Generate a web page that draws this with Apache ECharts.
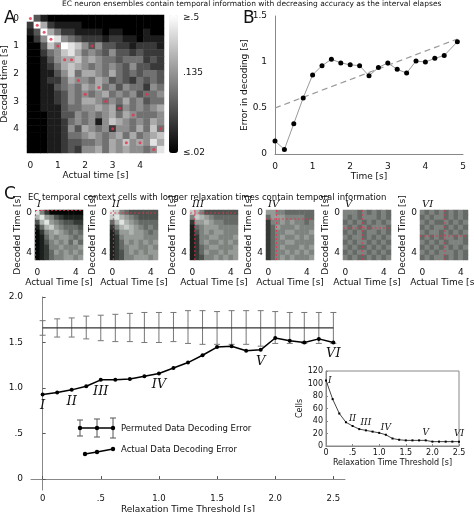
<!DOCTYPE html>
<html><head><meta charset="utf-8">
<script src="https://cdn.jsdelivr.net/npm/echarts@6/dist/echarts.min.js"></script>
<style>html,body{margin:0;background:#fff}#c{width:474px;height:512px}</style>
</head><body><div id="c"></div>
<script>
// panel A: decoding probability, rows = decoded time (0..4.75 s), cols = actual time, grey level 0..9
var heatA = [
 "93100000000000000000","29621111000000000000","13964221111011000100","02598543222122110111",
 "00375987535332212221","00245786454353323222","00135667565443444232","00124676545454353322",
 "00113574665464343443","00122465546534324343","00113454656453544254","00112354545645453445",
 "00112354665454645344","00111344556563545456","00011335454564654445","00011245451576545465",
 "00011253654525546474","00011244565456464567","00011233445465756586","00011232556465655458"];
// red dots in A [col,row]
var dotsA = [[0,0],[1,1],[2,2],[3,3],[4,4],[9,4],[5,6],[6,6],[7,9],[10,10],[8,11],[17,11],[11,12],
 [13,13],[15,14],[12,16],[19,16],[14,18],[16,18],[18,19]];
var timeB = [0,0.25,0.5,0.75,1,1.25,1.5,1.75,2,2.25,2.5,2.75,3,3.25,3.5,3.75,4,4.25,4.5,4.85];
var errB = [0.14,0.05,0.33,0.61,0.86,0.96,1.03,0.99,0.97,0.96,0.85,0.94,0.99,0.92,0.88,1.01,1.0,1.04,1.07,1.22];
var fitB = [[0,0.5],[4.85,1.25]];
// panel C small decoding maps (10x10)
var heatC = [
 ["9520000000","7965321111","3796543322","1478654443","0256765454","0146566545","0135656464","0125565556","0124656565","0124556656"],
 ["9854333333","8976543333","4797654444","2578765454","1366766545","1256666555","1246565656","1245665565","1235656566","1235566656"],
 ["8753333333","5876544444","2667655444","1456665555","1356566555","1255665556","1256556565","1245665556","1246556566","1235565656"],
 ["6655444444","4666555544","2556565545","2465556555","2455665556","2456556565","2455665555","2456555656","2455656565","2456565556"],
 ["5554545454","5454555454","4545454545","5454545554","4545455454","5455454545","4545545454","5454454545","4545545454","5454454545"],
 ["5454545454","4545545454","5454454545","4545545454","5455454545","4545455454","5454545554","4545454545","5454555454","4545545454"]];
var romans = ["I","II","III","IV","V","VI"];
var crossC = [[0.05,0.05],[0.35,0.3],[0.5,0.3],[1.1,0.9],[2.0,1.8],[2.6,2.6]];
// main panel C
var thr = [0,0.125,0.25,0.375,0.5,0.625,0.75,0.875,1,1.125,1.25,1.375,1.5,1.625,1.75,1.875,2,2.125,2.25,2.375,2.5];
var actual = [0.93,0.95,0.98,1.02,1.09,1.09,1.10,1.13,1.16,1.22,1.28,1.36,1.45,1.46,1.41,1.42,1.55,1.52,1.50,1.54,1.50];
var permMean = 1.66;
var permHi = [1.74,1.76,1.77,1.79,1.80,1.81,1.82,1.83,1.83,1.83,1.85,1.85,1.84,1.85,1.85,1.85,1.84,1.83,1.83,1.83,1.83];
var permLo = [1.58,1.56,1.56,1.54,1.52,1.51,1.51,1.50,1.50,1.51,1.49,1.48,1.48,1.48,1.48,1.46,1.49,1.49,1.49,1.49,1.49];
var cells = [105,75,52,38,32,27,25,23,21,18,12,10,9,9,9,9,7,7,7,7,7];
var mainLab = {0:"I",2:"II",4:"III",8:"IV",15:"V",20:"VI"};
var insetLab = {0:"I",4:"II",6:"III",9:"IV",15:"V",20:"VI"};

var F = "DejaVu Sans";
var chart = echarts.init(document.getElementById('c'));
var grid = [], xAxis = [], yAxis = [], series = [];
function rng(n){var a=[];for(var i=0;i<n;i++)a.push(String(i));return a;}
function cellsOf(rows){var d=[];rows.forEach(function(r,y){for(var x=0;x<r.length;x++)d.push([x,y,+r[x]]);});return d;}
var ax = {axisLine:{lineStyle:{color:'#888'}},axisTick:{show:false},axisLabel:{color:'#111',fontFamily:F,fontSize:9},splitLine:{show:false}};
function nameSt(){return {color:'#111',fontFamily:F,fontSize:9};}
function G(o){o.outerBoundsMode='none';o.containLabel=false;grid.push(o);return grid.length-1;}

// A
G({left:27,top:15,width:137,height:138});
xAxis.push(Object.assign({},ax,{type:'category',gridIndex:0,data:rng(20),axisLine:{show:false},
  axisLabel:{interval:3,color:'#111',fontSize:9,fontFamily:F,formatter:function(v){return v/4;}},
  name:'Actual time [s]',nameLocation:'middle',nameGap:17,nameTextStyle:nameSt()}));
yAxis.push(Object.assign({},ax,{type:'category',gridIndex:0,data:rng(20),inverse:true,axisLine:{show:false},
  axisLabel:{interval:3,color:'#111',fontSize:9,fontFamily:F,formatter:function(v){return v/4;}},
  name:'Decoded time [s]',nameLocation:'middle',nameGap:16,nameTextStyle:nameSt()}));
series.push({type:'heatmap',xAxisIndex:0,yAxisIndex:0,data:cellsOf(heatA)});
series.push({type:'scatter',xAxisIndex:0,yAxisIndex:0,data:dotsA,symbolSize:3,itemStyle:{color:'#e8304a'}});

// B
G({left:275,top:16,width:188,height:138});
xAxis.push(Object.assign({},ax,{type:'value',gridIndex:1,min:0,max:5,interval:1,
  name:'Time [s]',nameLocation:'middle',nameGap:15,nameTextStyle:nameSt()}));
yAxis.push(Object.assign({},ax,{type:'value',gridIndex:1,min:0,max:1.5,interval:0.5,
  axisLabel:{color:'#111',fontSize:9,fontFamily:F,formatter:function(v){return v===1?'1':String(v);}},
  name:'Error in decoding [s]',nameLocation:'middle',nameGap:20,nameTextStyle:nameSt()}));
series.push({type:'line',xAxisIndex:1,yAxisIndex:1,data:timeB.map(function(t,i){return [t,errB[i]];}),
  symbol:'circle',symbolSize:5,lineStyle:{color:'#999',width:1},itemStyle:{color:'#000'}});
series.push({type:'line',xAxisIndex:1,yAxisIndex:1,data:fitB,symbol:'none',lineStyle:{color:'#999',width:1.2,type:[6,4]}});

// C small maps
var lefts = [35,110,190,266,343,420];
lefts.forEach(function(l,k){
  var g = G({left:l,top:210,width:48,height:50});
  xAxis.push(Object.assign({},ax,{type:'category',gridIndex:g,data:rng(10),axisLine:{show:false},
    axisLabel:{interval:7,color:'#111',fontSize:9,fontFamily:F,formatter:function(v){return v/2;}},
    name:'Actual Time [s]',nameLocation:'middle',nameGap:14,nameTextStyle:nameSt()}));
  yAxis.push(Object.assign({},ax,{type:'category',gridIndex:g,data:rng(10),inverse:true,axisLine:{show:false},
    axisLabel:{interval:7,color:'#111',fontSize:9,fontFamily:F,margin:3,formatter:function(v){return v/2;}},
    name:'Decoded Time [s]',nameLocation:'middle',nameGap:11,nameTextStyle:nameSt()}));
  var xi = xAxis.length, yi = yAxis.length;
  xAxis.push({type:'value',gridIndex:g,min:0,max:5,show:false});
  yAxis.push({type:'value',gridIndex:g,min:0,max:5,inverse:true,show:false});
  series.push({type:'heatmap',xAxisIndex:xi-1,yAxisIndex:yi-1,data:cellsOf(heatC[k])});
  var c = crossC[k];
  series.push({type:'line',xAxisIndex:xi,yAxisIndex:yi,data:[[c[0],0],[c[0],5]],symbol:'none',lineStyle:{color:'#e8304a',width:1,type:[2,2],opacity:0.8}});
  series.push({type:'line',xAxisIndex:xi,yAxisIndex:yi,data:[[0,c[1]],[5,c[1]]],symbol:'none',lineStyle:{color:'#e8304a',width:1,type:[2,2],opacity:0.8}});
});

// main
var gm = G({left:31,top:297,width:314,height:193});
var cvX = [0,0.5,1,1.5,2,2.5];
xAxis.push(Object.assign({},ax,{type:'value',gridIndex:gm,min:-0.1,max:2.6,
  axisTick:{show:true,customValues:cvX,inside:true,length:3,lineStyle:{color:'#555'}},
  axisLabel:{customValues:cvX,color:'#111',fontSize:8.5,fontFamily:F,margin:4,formatter:function(v){return v===0?'0':v===0.5?'.5':v.toFixed(1);}},
  name:'Relaxation Time Threshold [s]',nameLocation:'middle',nameGap:15,nameTextStyle:nameSt()}));
var cvY = [0,0.5,1,1.5,2];
yAxis.push(Object.assign({},ax,{type:'value',gridIndex:gm,min:-0.12,max:2.0,
  axisTick:{show:true,customValues:cvY,inside:true,length:3,lineStyle:{color:'#555'}},
  axisLabel:{customValues:cvY,color:'#111',fontSize:9,fontFamily:F,formatter:function(v){return v===0?'0':v===0.5?'.5':v.toFixed(1);}},
  name:'Decoding Error [s]',nameLocation:'middle',nameGap:22,nameTextStyle:nameSt()}));
var xm = xAxis.length-1, ym = yAxis.length-1;
series.push({type:'custom',xAxisIndex:xm,yAxisIndex:ym,data:thr.map(function(t,i){return [t,permLo[i],permHi[i]];}),
  renderItem:function(p,api){var a=api.coord([api.value(0),api.value(1)]),b=api.coord([api.value(0),api.value(2)]);
    var st={stroke:'#777',lineWidth:1};
    return {type:'group',children:[
      {type:'line',shape:{x1:a[0],y1:a[1],x2:b[0],y2:b[1]},style:st},
      {type:'line',shape:{x1:a[0]-3,y1:a[1],x2:a[0]+3,y2:a[1]},style:st},
      {type:'line',shape:{x1:b[0]-3,y1:b[1],x2:b[0]+3,y2:b[1]},style:st}]};}});
series.push({type:'line',xAxisIndex:xm,yAxisIndex:ym,data:thr.map(function(t){return [t,permMean];}),symbol:'none',lineStyle:{color:'#333',width:1.2}});
series.push({type:'line',xAxisIndex:xm,yAxisIndex:ym,symbol:'circle',symbolSize:4,lineStyle:{color:'#000',width:1.5},itemStyle:{color:'#000'},
  data:thr.map(function(t,i){var d={value:[t,actual[i]]};
    if(mainLab[i])d.label={show:true,formatter:mainLab[i],position:'bottom',distance:3,fontFamily:'DejaVu Serif',fontStyle:'italic',fontSize:13,color:'#111'};
    return d;})});

// inset
var gi = G({left:326,top:371,width:133,height:75,show:true,borderColor:'#888',borderWidth:1});
var cvI = [0,0.5,1,1.5,2,2.5];
xAxis.push(Object.assign({},ax,{type:'value',gridIndex:gi,min:0,max:2.5,
  axisLabel:{customValues:cvI,color:'#111',fontSize:8,fontFamily:F,margin:3,formatter:function(v){return v===0?'0':v===0.5?'.5':v.toFixed(1);}},
  axisTick:{show:true,customValues:cvI,inside:true,length:2},
  name:'Relaxation Time Threshold [s]',nameLocation:'middle',nameGap:13,nameTextStyle:{color:'#111',fontFamily:F,fontSize:8}}));
yAxis.push(Object.assign({},ax,{type:'value',gridIndex:gi,min:0,max:120,interval:20,
  axisLabel:{color:'#111',fontSize:8,fontFamily:F,margin:3},axisTick:{show:true,inside:true,length:2},
  name:'Cells',nameLocation:'middle',nameGap:22,nameTextStyle:{color:'#111',fontFamily:F,fontSize:8}}));
series.push({type:'line',xAxisIndex:xAxis.length-1,yAxisIndex:yAxis.length-1,symbol:'rect',symbolSize:2,
  lineStyle:{color:'#444',width:1},itemStyle:{color:'#000'},
  data:thr.map(function(t,i){var d={value:[t,cells[i]]};
    if(insetLab[i])d.label={show:true,formatter:insetLab[i],position:i===0?'right':'top',distance:i===0?1:2,fontFamily:'DejaVu Serif',fontStyle:'italic',fontSize:9,color:'#111'};
    return d;})});

var cHeat = []; for (var s=0;s<series.length;s++) if(series[s].type==='heatmap' && s>0) cHeat.push(s);

function txt(x,y,t,sz,extra){return Object.assign({type:'text',left:x,top:y,style:{text:t,fontSize:sz,fontFamily:F,fill:'#111'}},extra||{});}
var st = {stroke:'#000',lineWidth:1.5};
chart.setOption({
  animation:false,
  grid:grid, xAxis:xAxis, yAxis:yAxis, series:series,
  visualMap:[
    {type:'continuous',seriesIndex:0,min:0,max:9,orient:'vertical',left:169,top:15,itemWidth:9,itemHeight:138,
     calculable:false,showLabel:false,text:null,inRange:{color:['#000','#fff']},
     padding:0,handleStyle:{opacity:0},indicatorStyle:{opacity:0}},
    {type:'continuous',seriesIndex:cHeat,min:0,max:9,show:false,inRange:{color:['#050806','#dfe5e0']}}
  ],
  graphic:[
    txt(62,0,'EC neuron ensembles contain temporal information with decreasing accuracy as the interval elapses',7.5),
    txt(4,10,'A',17), txt(243,10,'B',17), txt(4,186,'C',17),
    txt(28,193,'EC temporal context cells with longer relaxation times contain temporal information',8.5),
    txt(183,13,'≥.5',9), txt(183,68,'.135',9), txt(183,148,'≤.02',9),
    {type:'group',children:romans.map(function(r,k){return txt(lefts[k]+2,199,r,10,{style:{text:r,fontSize:10,fontFamily:'DejaVu Serif',fontStyle:'italic',fill:'#111'}});})},
    {type:'group',children:[80,97,113].map(function(x,k){var h=[8,9,10][k];return {type:'group',children:[
      {type:'line',shape:{x1:x,y1:428-h,x2:x,y2:428+h},style:{stroke:'#555',lineWidth:1}},
      {type:'line',shape:{x1:x-3,y1:428-h,x2:x+3,y2:428-h},style:{stroke:'#555',lineWidth:1}},
      {type:'line',shape:{x1:x-3,y1:428+h,x2:x+3,y2:428+h},style:{stroke:'#555',lineWidth:1}},
      {type:'circle',shape:{cx:x,cy:428,r:2.2},style:{fill:'#000'}}]};}).concat([
      {type:'line',shape:{x1:80,y1:428,x2:113,y2:428},style:st},
      {type:'polyline',shape:{points:[[85,454],[97,452],[113,449]]},style:st},
      {type:'circle',shape:{cx:85,cy:454,r:2.2},style:{fill:'#000'}},
      {type:'circle',shape:{cx:97,cy:452,r:2.2},style:{fill:'#000'}},
      {type:'circle',shape:{cx:113,cy:449,r:2.2},style:{fill:'#000'}}])},
    txt(121,424,'Permuted Data Decoding Error',8.5),
    txt(121,445,'Actual Data Decoding Error',8.5)
  ]
});
</script></body></html>
